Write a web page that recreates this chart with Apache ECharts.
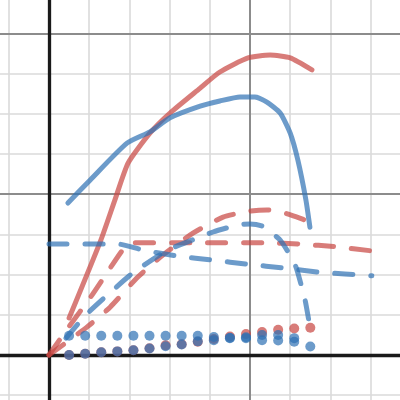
<!DOCTYPE html>
<html>
<head>
<meta charset="utf-8">
<script src="https://cdn.jsdelivr.net/npm/echarts@6/dist/echarts.min.js"></script>
<style>
html,body{margin:0;padding:0;background:#fff;}
#c{width:400px;height:400px;}
</style>
</head>
<body>
<div id="c"></div>
<script>
// ---- data (graph units: one minor grid square = 1) ----
const dotX = [0.5,0.9,1.3,1.7,2.1,2.5,2.9,3.3,3.7,4.1,4.5,4.9,5.3,5.7,6.1,6.5];
const redDotsY = [0,0.03,0.07,0.09,0.12,0.17,0.24,0.27,0.33,0.40,0.46,0.52,0.57,0.63,0.66,0.68];
const blueUpperDotsY = [0.48,0.48,0.48,0.48,0.48,0.48,0.48,0.48,0.48,0.45,0.43,0.42,0.37,0.36,0.33,0.21];
const blueLowerDotsY = [0,0.03,0.07,0.09,0.12,0.16,0.22,0.26,0.34,0.37,0.42,0.44,0.50,0.50,0.42];

const redSolid = [[0.50,0.92],[1.29,2.86],[1.64,3.86],[1.97,4.78],[2.51,5.52],[3.01,6.02],[3.76,6.64],[4.25,7.04],[4.95,7.39],[5.50,7.46],[6.00,7.39],[6.54,7.09]];
const blueSolid = [[0.47,3.78],[1.02,4.35],[1.94,5.27],[2.51,5.55],[3.01,5.90],[3.76,6.19],[4.25,6.32],[4.75,6.42],[5.12,6.42],[5.42,6.29],[5.75,6.02],[6.00,5.52],[6.19,4.85],[6.39,3.86],[6.49,3.18]];
const redDashArc = [[0,0],[0.95,0.70],[1.52,1.19],[2.21,1.94],[2.84,2.49],[3.58,3.03],[4.33,3.43],[5.00,3.58],[5.42,3.61],[5.87,3.53],[6.17,3.43],[6.49,3.31]];
const redDashFlat = [[0,0],[0.47,0.67],[1.07,1.49],[1.52,2.16],[1.89,2.69],[2.06,2.79],[3.76,2.79],[5.42,2.79],[6.24,2.76],[7.16,2.69],[8.03,2.59]];
const blueDashArc = [[0.42,0.42],[0.92,1.00],[1.54,1.57],[2.11,2.06],[2.96,2.61],[4.08,3.06],[4.68,3.23],[5.00,3.26],[5.30,3.21],[5.50,3.06],[5.75,2.86],[6.07,2.36],[6.17,2.11],[6.37,1.37],[6.49,0.70]];
const blueDashFlat = [[0,2.76],[1.72,2.76],[2.34,2.61],[3.21,2.46],[4.08,2.36],[4.93,2.26],[5.87,2.16],[6.74,2.06],[8.03,1.97]];

// grid line positions
const minorGridX = [-1, 1, 2, 3, 4, 6, 7, 8];
const minorGridY = [-1, 1, 2, 3, 5, 6, 7];
const majorGridX = [5];
const majorGridY = [4, 8];

// ---- chart ----
const RED = '#c74440', BLUE = '#2d70b3';
const pairs = (xs, ys) => ys.map((y, i) => [xs[i], y]);

const chart = echarts.init(document.getElementById('c'), null, {renderer: 'canvas'});

function lineSeries(data, color, dashed) {
  return {
    type: 'line', data: data, symbol: 'none', showSymbol: false, smooth: 0.2,
    z: 5, silent: true,
    lineStyle: {color: color, width: 5, opacity: 0.7, cap: 'round', join: 'round',
      type: dashed ? [18, 18] : 'solid'}
  };
}
function dotSeries(data, color) {
  return {
    type: 'scatter', data: data, symbol: 'circle', symbolSize: 10, z: 6, silent: true,
    itemStyle: {color: color, opacity: 0.7}
  };
}
function gridLines(xs, ys, color, width, z) {
  return {
    type: 'line', data: [], z: z, silent: true,
    markLine: {
      silent: true, symbol: 'none', label: {show: false}, animation: false,
      lineStyle: {color: color, width: width, type: 'solid'},
      data: xs.map(v => ({xAxis: v})).concat(ys.map(v => ({yAxis: v})))
    }
  };
}

const xMin = -1.219, xMax = 8.731, yMin = -1.119, yMax = 8.831;
const axisCommon = {
  type: 'value',
  axisLabel: {show: false}, axisTick: {show: false}, axisLine: {show: false},
  splitLine: {show: false}
};

chart.setOption({
  animation: false,
  backgroundColor: '#ffffff',
  grid: {left: 0, right: 0, top: 0, bottom: 0, containLabel: false},
  xAxis: Object.assign({min: xMin, max: xMax}, axisCommon),
  yAxis: Object.assign({min: yMin, max: yMax}, axisCommon),
  series: [
    gridLines(minorGridX, minorGridY, '#dadada', 1.6, 1),
    gridLines(majorGridX, majorGridY, '#8c8c8c', 2, 2),
    gridLines([0], [0], '#1a1a1a', 3.3, 3),
    lineSeries(redSolid, RED, false),
    lineSeries(blueSolid, BLUE, false),
    lineSeries(redDashArc, RED, true),
    lineSeries(redDashFlat, RED, true),
    lineSeries(blueDashArc, BLUE, true),
    lineSeries(blueDashFlat, BLUE, true),
    dotSeries(pairs(dotX, redDotsY), RED),
    dotSeries(pairs(dotX, blueUpperDotsY), BLUE),
    dotSeries(pairs(dotX, blueLowerDotsY), BLUE)
  ]
});
</script>
</body>
</html>
